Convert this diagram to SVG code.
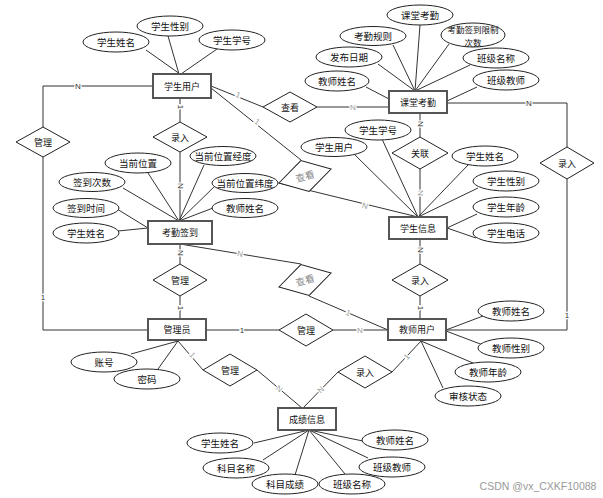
<svg xmlns="http://www.w3.org/2000/svg" width="603" height="498" viewBox="0 0 603 498">
<style>
.bg{fill:#fff}
.ln{stroke:#333;stroke-width:1;fill:none}
.ent{fill:#fff;stroke:#555;stroke-width:2}
.att{fill:#fff;stroke:#222;stroke-width:1}
.rel{fill:#fff;stroke:#222;stroke-width:1}
.t{font-family:"Noto Sans CJK SC","Noto Sans",sans-serif;font-size:9.5px;fill:#111;text-anchor:middle;dominant-baseline:central}
.ts{font-family:"Noto Sans CJK SC","Noto Sans",sans-serif;font-size:8.5px;fill:#111;text-anchor:middle;dominant-baseline:central}
.te{font-family:"Noto Sans CJK SC","Noto Sans",sans-serif;font-size:9px;fill:#111;text-anchor:middle;dominant-baseline:central}
.tg{font-family:"Noto Sans CJK SC",serif;font-size:9.5px;fill:#888;text-anchor:middle;dominant-baseline:central}
.lb{font-family:"Liberation Sans",sans-serif;font-size:8px;fill:#333;text-anchor:middle;dominant-baseline:central;stroke:#fff;stroke-width:2.5;paint-order:stroke}
.lg{font-family:"Liberation Sans",sans-serif;font-size:8px;fill:#999;text-anchor:middle;dominant-baseline:central;stroke:#fff;stroke-width:2.5;paint-order:stroke}
.wm{font-family:"Liberation Sans",sans-serif;font-size:10.5px;fill:#999;text-anchor:middle}
</style>
<rect class="bg" width="603" height="498"/>
<g id="connectors">
<line class="ln" x1="146" y1="50" x2="180" y2="74"/>
<line class="ln" x1="168" y1="36" x2="179" y2="74"/>
<line class="ln" x1="217" y1="49" x2="181" y2="74"/>
<polyline class="ln" points="153,86 43,86 43,127"/>
<polyline class="ln" points="43,157 43,330 148,330"/>
<line class="ln" x1="180" y1="98" x2="180" y2="122"/>
<line class="ln" x1="180" y1="152" x2="180" y2="221"/>
<line class="ln" x1="211" y1="86" x2="263" y2="107"/>
<line class="ln" x1="317" y1="107" x2="389" y2="107"/>
<line class="ln" x1="211" y1="88" x2="301" y2="160"/>
<line class="ln" x1="279" y1="183" x2="418" y2="217"/>
<line class="ln" x1="415" y1="91" x2="420" y2="25"/>
<line class="ln" x1="415" y1="91" x2="393" y2="45"/>
<line class="ln" x1="415" y1="91" x2="449" y2="44"/>
<line class="ln" x1="415" y1="91" x2="378" y2="64"/>
<line class="ln" x1="415" y1="91" x2="470" y2="65"/>
<line class="ln" x1="366" y1="87" x2="389" y2="99"/>
<line class="ln" x1="447" y1="101" x2="477" y2="87"/>
<polyline class="ln" points="447,103 567,103 567,147"/>
<polyline class="ln" points="567,179 567,330 446,330"/>
<line class="ln" x1="420" y1="113" x2="420" y2="137"/>
<line class="ln" x1="420" y1="169" x2="420" y2="217"/>
<line class="ln" x1="418" y1="217" x2="355" y2="155"/>
<line class="ln" x1="418" y1="217" x2="382" y2="139"/>
<line class="ln" x1="418" y1="217" x2="468" y2="165"/>
<line class="ln" x1="418" y1="217" x2="478" y2="188"/>
<line class="ln" x1="447" y1="228" x2="477" y2="214"/>
<line class="ln" x1="447" y1="228" x2="476" y2="238"/>
<line class="ln" x1="420" y1="239" x2="420" y2="264"/>
<line class="ln" x1="420" y1="296" x2="420" y2="319"/>
<line class="ln" x1="179" y1="221" x2="148" y2="173"/>
<line class="ln" x1="179" y1="221" x2="204" y2="165"/>
<line class="ln" x1="179" y1="221" x2="123" y2="188"/>
<line class="ln" x1="179" y1="221" x2="215" y2="186"/>
<line class="ln" x1="117" y1="209" x2="148" y2="228"/>
<line class="ln" x1="179" y1="221" x2="213" y2="208"/>
<line class="ln" x1="118" y1="231" x2="148" y2="228"/>
<line class="ln" x1="180" y1="244" x2="180" y2="264"/>
<line class="ln" x1="180" y1="296" x2="180" y2="319"/>
<line class="ln" x1="180" y1="244" x2="301" y2="264"/>
<line class="ln" x1="309" y1="296" x2="388" y2="330"/>
<line class="ln" x1="206" y1="330" x2="279" y2="330"/>
<line class="ln" x1="333" y1="330" x2="388" y2="330"/>
<line class="ln" x1="178" y1="341" x2="131" y2="354"/>
<line class="ln" x1="178" y1="341" x2="158" y2="369"/>
<line class="ln" x1="178" y1="341" x2="203" y2="370"/>
<line class="ln" x1="257" y1="370" x2="302" y2="408"/>
<line class="ln" x1="338" y1="372" x2="303" y2="408"/>
<line class="ln" x1="392" y1="372" x2="421" y2="341"/>
<line class="ln" x1="446" y1="330" x2="483" y2="316"/>
<line class="ln" x1="446" y1="331" x2="483" y2="345"/>
<line class="ln" x1="421" y1="341" x2="473" y2="363"/>
<line class="ln" x1="421" y1="341" x2="443" y2="388"/>
<line class="ln" x1="309" y1="430" x2="254" y2="443"/>
<line class="ln" x1="309" y1="430" x2="263" y2="460"/>
<line class="ln" x1="309" y1="430" x2="295" y2="475"/>
<line class="ln" x1="309" y1="430" x2="345" y2="474"/>
<line class="ln" x1="309" y1="430" x2="368" y2="458"/>
<line class="ln" x1="309" y1="430" x2="363" y2="441"/>
<text class="lb" x="78" y="86">N</text>
<text class="lb" transform="translate(180,107) rotate(90)">1</text>
<text class="lb" transform="translate(180,186) rotate(90)">N</text>
<text class="lb" x="43" y="297">1</text>
<text class="lg" transform="translate(238,95) rotate(22)">1</text>
<text class="lg" x="353" y="107">N</text>
<text class="lg" transform="translate(257,122) rotate(38)">1</text>
<text class="lg" transform="translate(365,206) rotate(14)">N</text>
<text class="lb" x="529" y="103">N</text>
<text class="lb" x="567" y="315">1</text>
<text class="lb" transform="translate(420,124) rotate(90)">N</text>
<text class="lg" transform="translate(420,193) rotate(90)">N</text>
<text class="lb" transform="translate(420,250) rotate(90)">N</text>
<text class="lb" transform="translate(420,308) rotate(90)">1</text>
<text class="lb" transform="translate(180,253) rotate(90)">N</text>
<text class="lb" transform="translate(180,308) rotate(90)">1</text>
<text class="lg" transform="translate(240,254) rotate(10)">N</text>
<text class="lg" transform="translate(348,313) rotate(23)">1</text>
<text class="lb" x="242" y="330">1</text>
<text class="lg" x="360" y="330">N</text>
<text class="lg" transform="translate(192,355) rotate(50)">1</text>
<text class="lg" transform="translate(279,389) rotate(40)">N</text>
<text class="lg" transform="translate(321,390) rotate(-45)">N</text>
<text class="lg" transform="translate(407,357) rotate(-47)">1</text>
</g>
<g id="e_student_user"><rect class="ent" x="153" y="74" width="58" height="24"/><text class="te" x="182" y="86">学生用户</text></g>
<g id="e_class_att"><rect class="ent" x="389" y="91" width="58" height="22"/><text class="te" x="418" y="102">课堂考勤</text></g>
<g id="e_checkin"><rect class="ent" x="148" y="221" width="64" height="23"/><text class="te" x="180" y="232.5">考勤签到</text></g>
<g id="e_student_info"><rect class="ent" x="389" y="217" width="58" height="22"/><text class="te" x="418" y="228">学生信息</text></g>
<g id="e_admin"><rect class="ent" x="148" y="319" width="58" height="21"/><text class="te" x="177" y="329.5">管理员</text></g>
<g id="e_teacher"><rect class="ent" x="388" y="319" width="58" height="21"/><text class="te" x="417" y="329.5">教师用户</text></g>
<g id="e_grade"><rect class="ent" x="278" y="408" width="58" height="22"/><text class="te" x="307" y="419">成绩信息</text></g>
<g id="a_su_name"><ellipse class="att" cx="116" cy="42" rx="33" ry="10"/><text class="t" x="116" y="42">学生姓名</text></g>
<g id="a_su_sex"><ellipse class="att" cx="170" cy="26" rx="33" ry="10"/><text class="t" x="170" y="26">学生性别</text></g>
<g id="a_su_no"><ellipse class="att" cx="232" cy="40" rx="33" ry="10"/><text class="t" x="232" y="40">学生学号</text></g>
<g id="a_ca_att"><ellipse class="att" cx="420" cy="15" rx="33" ry="10"/><text class="t" x="420" y="15">课堂考勤</text></g>
<g id="a_ca_rule"><ellipse class="att" cx="373" cy="36" rx="33" ry="9.5"/><text class="t" x="373" y="36">考勤规则</text></g>
<g id="a_ca_limit"><ellipse class="att" cx="473" cy="35" rx="32" ry="12"/><text class="ts" x="473" y="28.5">考勤签到限制</text><text class="ts" x="473" y="41.5">次数</text></g>
<g id="a_ca_date"><ellipse class="att" cx="349" cy="57" rx="33" ry="10"/><text class="t" x="349" y="57">发布日期</text></g>
<g id="a_ca_class"><ellipse class="att" cx="496" cy="58" rx="33" ry="10"/><text class="t" x="496" y="58">班级名称</text></g>
<g id="a_ca_tname"><ellipse class="att" cx="337" cy="81" rx="32" ry="10"/><text class="t" x="337" y="81">教师姓名</text></g>
<g id="a_ca_cteacher"><ellipse class="att" cx="506" cy="80" rx="33" ry="10"/><text class="t" x="506" y="80">班级教师</text></g>
<g id="a_si_no"><ellipse class="att" cx="378" cy="130" rx="33" ry="10"/><text class="t" x="378" y="130">学生学号</text></g>
<g id="a_si_user"><ellipse class="att" cx="334" cy="147" rx="33" ry="9.5"/><text class="t" x="334" y="147">学生用户</text></g>
<g id="a_si_name"><ellipse class="att" cx="485" cy="156" rx="33" ry="10"/><text class="t" x="485" y="156">学生姓名</text></g>
<g id="a_si_sex"><ellipse class="att" cx="506" cy="181" rx="33" ry="10"/><text class="t" x="506" y="181">学生性别</text></g>
<g id="a_si_age"><ellipse class="att" cx="506" cy="207" rx="33" ry="10"/><text class="t" x="506" y="207">学生年龄</text></g>
<g id="a_si_tel"><ellipse class="att" cx="506" cy="233" rx="33" ry="10"/><text class="t" x="506" y="233">学生电话</text></g>
<g id="a_ck_pos"><ellipse class="att" cx="138" cy="163" rx="33" ry="10"/><text class="t" x="138" y="163">当前位置</text></g>
<g id="a_ck_lng"><ellipse class="att" cx="223" cy="156" rx="33" ry="9.5"/><text class="t" x="223" y="156">当前位置经度</text></g>
<g id="a_ck_count"><ellipse class="att" cx="92" cy="182" rx="33" ry="9.5"/><text class="t" x="92" y="182">签到次数</text></g>
<g id="a_ck_lat"><ellipse class="att" cx="245" cy="183" rx="33" ry="9.5"/><text class="t" x="245" y="183">当前位置纬度</text></g>
<g id="a_ck_time"><ellipse class="att" cx="86" cy="208" rx="33" ry="9.5"/><text class="t" x="86" y="208">签到时间</text></g>
<g id="a_ck_tname"><ellipse class="att" cx="245" cy="208" rx="33" ry="9.5"/><text class="t" x="245" y="208">教师姓名</text></g>
<g id="a_ck_sname"><ellipse class="att" cx="86" cy="233" rx="33" ry="10"/><text class="t" x="86" y="233">学生姓名</text></g>
<g id="a_ad_acc"><ellipse class="att" cx="104" cy="362" rx="33" ry="10"/><text class="t" x="104" y="362">账号</text></g>
<g id="a_ad_pwd"><ellipse class="att" cx="147" cy="379" rx="33" ry="10"/><text class="t" x="147" y="379">密码</text></g>
<g id="a_te_name"><ellipse class="att" cx="511" cy="311" rx="33" ry="10"/><text class="t" x="511" y="311">教师姓名</text></g>
<g id="a_te_sex"><ellipse class="att" cx="511" cy="348" rx="33" ry="10"/><text class="t" x="511" y="348">教师性别</text></g>
<g id="a_te_age"><ellipse class="att" cx="488" cy="372" rx="33" ry="10"/><text class="t" x="488" y="372">教师年龄</text></g>
<g id="a_te_status"><ellipse class="att" cx="468" cy="396" rx="33" ry="10"/><text class="t" x="468" y="396">审核状态</text></g>
<g id="a_gr_sname"><ellipse class="att" cx="220" cy="443" rx="33" ry="10"/><text class="t" x="220" y="443">学生姓名</text></g>
<g id="a_gr_subj"><ellipse class="att" cx="236" cy="468" rx="33" ry="10"/><text class="t" x="236" y="468">科目名称</text></g>
<g id="a_gr_score"><ellipse class="att" cx="285" cy="484" rx="33" ry="10"/><text class="t" x="285" y="484">科目成绩</text></g>
<g id="a_gr_class"><ellipse class="att" cx="352" cy="484" rx="33" ry="10"/><text class="t" x="352" y="484">班级名称</text></g>
<g id="a_gr_cteacher"><ellipse class="att" cx="392" cy="467" rx="33" ry="10"/><text class="t" x="392" y="467">班级教师</text></g>
<g id="a_gr_tname"><ellipse class="att" cx="395" cy="440" rx="33" ry="10"/><text class="t" x="395" y="440">教师姓名</text></g>
<g id="r_manage_left"><polygon class="rel" points="16,142 43,127 70,142 43,157"/><text class="te" x="43" y="142">管理</text></g>
<g id="r_input1"><polygon class="rel" points="153,137 180,122 207,137 180,152"/><text class="te" x="180" y="137">录入</text></g>
<g id="r_view1"><polygon class="rel" points="263,107 290,92 317,107 290,122"/><text class="te" x="290" y="107">查看</text></g>
<g id="r_relate"><polygon class="rel" points="392,153 420,137 448,153 420,169"/><text class="te" x="420" y="153">关联</text></g>
<g id="r_input_right"><polygon class="rel" points="540,163 567,147 594,163 567,179"/><text class="te" x="567" y="163">录入</text></g>
<g id="r_view2" transform="translate(305,176) rotate(-15)"><polygon class="rel" points="-27,0 0,-16 27,0 0,16"/><text class="tg" x="0" y="0">查看</text></g>
<g id="r_manage_mid"><polygon class="rel" points="153,280 180,264 207,280 180,296"/><text class="te" x="180" y="280">管理</text></g>
<g id="r_view3" transform="translate(305,280) rotate(-15)"><polygon class="rel" points="-27,0 0,-16 27,0 0,16"/><text class="tg" x="0" y="0">查看</text></g>
<g id="r_input_mid"><polygon class="rel" points="392,280 420,264 448,280 420,296"/><text class="te" x="420" y="280">录入</text></g>
<g id="r_manage_bottom"><polygon class="rel" points="279,330 306,314 333,330 306,346"/><text class="te" x="306" y="330">管理</text></g>
<g id="r_manage_low"><polygon class="rel" points="203,370 230,354 257,370 230,386"/><text class="te" x="230" y="370">管理</text></g>
<g id="r_input_low"><polygon class="rel" points="338,372 365,356 392,372 365,388"/><text class="te" x="365" y="372">录入</text></g>
<text class="wm" x="538" y="490">CSDN @vx_CXKF10088</text>
</svg>
